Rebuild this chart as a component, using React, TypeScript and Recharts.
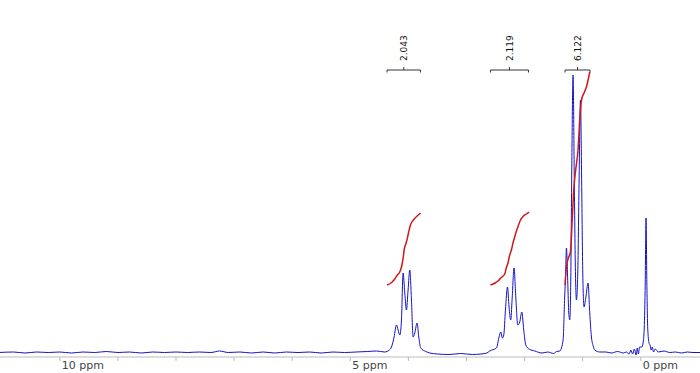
import { ComposedChart, Line, XAxis, YAxis, ReferenceLine, ReferenceDot } from "recharts";

// [ppm, intensity] pairs, intensity in screen px above the baseline
const baselineLeft = [
  [11.05, 0.5], [10.8, 1], [10.6, 0], [10.4, 1], [10.2, 0.5], [10.0, 1], [9.8, 0], [9.6, 1],
  [9.4, 0.5], [9.2, 1.5], [9.0, 0.5], [8.8, 1], [8.6, 0], [8.4, 1], [8.2, 0.5], [8.0, 1],
  [7.8, 0.5], [7.6, 1], [7.4, 0.5], [7.25, 2], [7.1, 0.5], [6.9, 1], [6.7, 0], [6.5, 1],
  [6.3, 0], [6.1, 1], [5.9, 0.5], [5.7, 1], [5.5, 0], [5.3, 1], [5.1, 0.5], [4.9, 1],
  [4.7, 1.5], [4.55, 2],
];
const quartetOCH2 = [
  [4.406, 1], [4.33, 3], [4.291, 6], [4.246, 16], [4.205, 28], [4.177, 23], [4.148, 18],
  [4.119, 33], [4.091, 80], [4.062, 60], [4.033, 43], [4.005, 63], [3.976, 83], [3.947, 53],
  [3.919, 16], [3.89, 20], [3.85, 30], [3.821, 16], [3.787, 5], [3.7, 1.5], [3.632, 0],
];
const baselineMid = [[3.5, -1], [3.3, -1.5], [3.1, -0.5], [2.9, -1.5], [2.75, -1], [2.65, 0]];
const multipletCH2 = [
  [2.6, 2], [2.484, 5], [2.439, 16], [2.41, 21], [2.38, 15], [2.358, 18], [2.329, 43],
  [2.294, 66], [2.267, 46], [2.238, 33], [2.215, 53], [2.181, 85], [2.151, 56], [2.117, 28],
  [2.083, 31], [2.048, 41], [2.014, 23], [1.979, 8], [1.923, 4], [1.824, 2],
];
const baselineCH3 = [[1.7, 0], [1.6, 1], [1.5, -0.5], [1.45, 1.5]];
const multipletCH3 = [
  [1.394, 2], [1.337, 13], [1.31, 55], [1.296, 75], [1.279, 105], [1.256, 70], [1.239, 40],
  [1.222, 33], [1.205, 70], [1.188, 180], [1.165, 278], [1.145, 180], [1.127, 90], [1.107, 53],
  [1.084, 80], [1.062, 170], [1.038, 253], [1.015, 160], [0.998, 80], [0.976, 46], [0.947, 55],
  [0.907, 70], [0.878, 40], [0.849, 16], [0.818, 7], [0.792, 3], [0.706, 1],
];
const baselineRight = [
  [0.6, 1], [0.5, 0], [0.4, 1.5], [0.3, 0], [0.25, 1], [0.2, -1], [0.17, 3], [0.14, -1],
  [0.11, 4], [0.08, -2], [0.06, 5], [0.04, -1], [0.02, 6],
];
const tmsPeak = [
  [-0.017, 6], [-0.04, 10], [-0.06, 25], [-0.077, 70], [-0.091, 135], [-0.105, 70], [-0.12, 25],
  [-0.143, 10], [-0.16, 8], [-0.18, 3], [-0.2, 6], [-0.22, 1], [-0.25, 4], [-0.3, 1], [-0.4, 2],
  [-0.5, 0.5], [-0.6, 1], [-0.7, 0], [-0.8, 1], [-0.9, 0.5], [-1.05, 0.5],
];

const integral1 = [
  [4.367, 68], [4.3, 70], [4.234, 74], [4.19, 78], [4.148, 81], [4.115, 87], [4.09, 95],
  [4.07, 104], [4.045, 109], [4.02, 114], [3.995, 121], [3.97, 127], [3.94, 131], [3.9, 134],
  [3.85, 137], [3.79, 140],
];
const integral2 = [
  [2.587, 68], [2.51, 70], [2.457, 72], [2.41, 75], [2.342, 79], [2.31, 86], [2.285, 90],
  [2.26, 97], [2.227, 103], [2.199, 110], [2.17, 116], [2.14, 122], [2.11, 127], [2.07, 133],
  [2.02, 137], [1.97, 139], [1.923, 141],
];
const integral3 = [
  [1.303, 68], [1.279, 86], [1.24, 96], [1.21, 101], [1.18, 133], [1.15, 166], [1.12, 183],
  [1.08, 203], [1.05, 233], [1.02, 253], [0.976, 260], [0.935, 266], [0.878, 281],
];

const integralFrom = [4.367, 2.587, 1.303];
const integralTo = [3.792, 1.933, 0.873];
const integralLabels = ["2.043", "2.119", "6.122"];

const axisTicks = [0, 1, 2, 3, 4, 5, 6, 7, 8, 9, 10];
const labelledTicks = [0, 5, 10];

const toPoints = (pairs: number[][]) => pairs.map(([ppm, v]) => ({ ppm, v }));

const spectrum = toPoints([
  ...baselineLeft, ...quartetOCH2, ...baselineMid, ...multipletCH2,
  ...baselineCH3, ...multipletCH3, ...baselineRight, ...tmsPeak,
]);
const integrals = [integral1, integral2, integral3].map(toPoints);

const BRACKET = 283;

function PpmTick({ x, y, payload }: any) {
  if (!labelledTicks.includes(payload.value)) return <g />;
  return (
    <text x={x + 2} y={y} dy={6} fontSize={11} fill="#444" fontFamily="DejaVu Sans">
      {`${payload.value} ppm`}
    </text>
  );
}

export default function App() {
  return (
    <div style={{ position: "absolute", left: 0, top: 0, background: "#fff" }}>
      <ComposedChart width={700} height={373} margin={{ top: 20, right: 0, bottom: 0, left: 0 }}>
        <XAxis
          dataKey="ppm"
          type="number"
          domain={[-1.02, 11.03]}
          reversed
          ticks={axisTicks}
          interval={0}
          height={16}
          stroke="#bbb"
          tickSize={4}
          tick={<PpmTick />}
          allowDataOverflow
        />
        <YAxis hide type="number" domain={[-4, 333]} allowDataOverflow />
        <Line
          data={spectrum}
          dataKey="v"
          type="monotone"
          stroke="#1414c4"
          strokeWidth={1}
          dot={false}
          isAnimationActive={false}
        />
        {integrals.map((pts, i) => (
          <Line
            key={`int${i}`}
            data={pts}
            dataKey="v"
            type="monotone"
            stroke="#d01818"
            strokeWidth={1.5}
            dot={false}
            isAnimationActive={false}
          />
        ))}
        {integralLabels.map((label, i) => {
          const a = integralFrom[i];
          const b = integralTo[i];
          const mid = (a + b) / 2;
          return [
            <ReferenceLine key={`h${i}`} segment={[{ x: a, y: BRACKET }, { x: b, y: BRACKET }]} stroke="#333" ifOverflow="visible" />,
            <ReferenceLine key={`l${i}`} segment={[{ x: a, y: BRACKET }, { x: a, y: BRACKET - 2.5 }]} stroke="#333" ifOverflow="visible" />,
            <ReferenceLine key={`r${i}`} segment={[{ x: b, y: BRACKET }, { x: b, y: BRACKET - 2.5 }]} stroke="#333" ifOverflow="visible" />,
            <ReferenceLine key={`m${i}`} segment={[{ x: mid, y: BRACKET }, { x: mid, y: BRACKET + 3 }]} stroke="#333" ifOverflow="visible" />,
            <ReferenceDot
              key={`t${i}`}
              x={mid}
              y={BRACKET + 9}
              r={0}
              ifOverflow="visible"
              shape={(p: any) => (
                <text
                  x={p.cx}
                  y={p.cy}
                  dy={3.5}
                  transform={`rotate(-90 ${p.cx} ${p.cy})`}
                  fontSize={9}
                  fill="#111"
                  fontFamily="DejaVu Sans"
                >
                  {label}
                </text>
              )}
            />,
          ];
        })}
      </ComposedChart>
    </div>
  );
}
